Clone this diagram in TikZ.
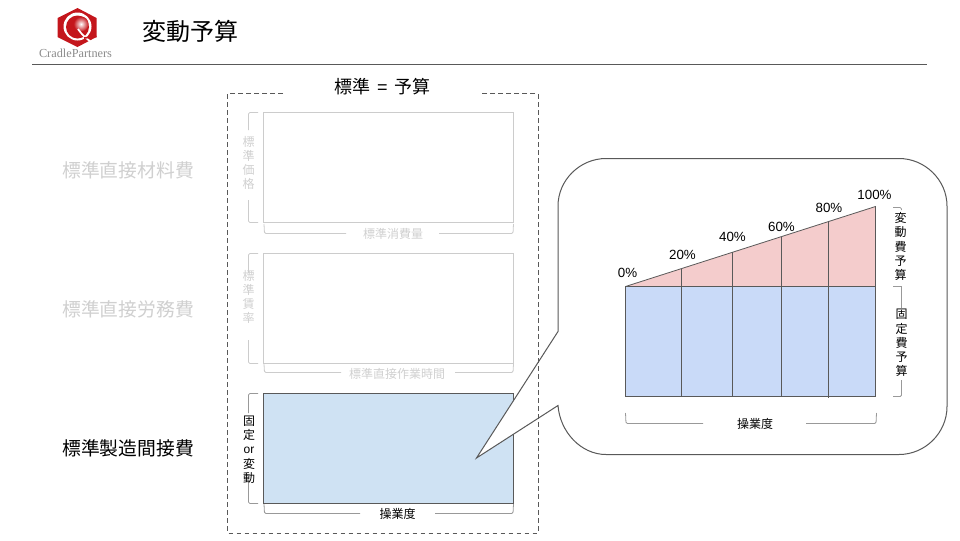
\documentclass[tikz,border=0pt]{standalone}
\usepackage{fontspec}
\setmainfont{Noto Sans CJK JP}
\newfontfamily\latinf{Liberation Sans}
\newfontfamily\logof{Liberation Serif}
\definecolor{lineg}{HTML}{595959}
\definecolor{brk}{HTML}{999999}
\definecolor{pale}{HTML}{CCCCCC}
\definecolor{paletext}{HTML}{D0D0D0}
\definecolor{boxblue}{HTML}{CFE2F3}
\definecolor{chartblue}{HTML}{C9DAF8}
\definecolor{chartpink}{HTML}{F4CCCC}
\definecolor{logored}{HTML}{C4161C}
\tikzset{
  lbl/.style={inner sep=0pt,font=\fontsize{14.1}{14}\selectfont},
  vtext/.style={inner sep=0pt,align=center,font=\fontsize{9}{10.7}\selectfont},
  htext/.style={inner sep=0pt,font=\fontsize{9}{10}\selectfont},
  pct/.style={inner sep=0pt,font=\latinf\fontsize{10}{11}\selectfont},
  brkpale/.style={draw=pale,line width=0.6pt,rounded corners=1pt},
  brkdark/.style={draw=brk,line width=0.6pt,rounded corners=1pt},
  chartline/.style={draw=lineg,line width=0.6pt},
}
\begin{document}
\begin{tikzpicture}[x=0.75pt,y=-0.75pt]
\useasboundingbox (0,0) rectangle (960,540);
\fill[white] (0,0) rectangle (960,540);
% header logo
\fill[logored] (77.5,8) -- (96.5,18) -- (96.5,37) -- (77.5,47) -- (57.5,37) -- (57.5,18) -- cycle;
\fill[white] (77.5,26.5) circle (14);
\fill[logored] (77.5,27) circle (11.5);
\shade[inner color=white,outer color=logored] (81,24) circle (7.5);
\draw[white,line width=1.3pt] (78,29) .. controls (82,35) and (86,38) .. (91,42);
\draw[logored,line width=1.2pt] (84,38) -- (96.5,36.5);
\node[inner sep=0pt,text=gray!90,font=\logof\fontsize{9.2}{10}\selectfont] (logotext) at (75.5,53) {CradlePartners};
\node[inner sep=0pt,font=\fontsize{18}{18}\selectfont] (title) at (190,31.5) {変動予算};
\draw[draw=lineg,line width=0.7pt] (32,64.5) -- (927,64.5);
% left labels
\node[lbl,text=paletext] (l1) at (128,170) {標準直接材料費};
\node[lbl,text=paletext] (l2) at (128,309) {標準直接労務費};
\node[lbl] (l3) at (128,448) {標準製造間接費};
% boxes
\draw[draw=pale,line width=0.75pt,fill=white] (263.5,112.5) rectangle (513.5,222.5);
\draw[draw=pale,line width=0.75pt,fill=white] (263.5,253.5) rectangle (513.5,363.5);
\draw[draw=lineg,line width=0.75pt,fill=boxblue] (263.5,393.5) rectangle (513.5,503.5);
% left brackets
\draw[brkpale] (258,112.5) -- (248.5,112.5) -- (248.5,130);
\draw[brkpale] (248.5,200) -- (248.5,222.5) -- (258,222.5);
\draw[brkpale] (258,253.5) -- (248.5,253.5) -- (248.5,273);
\draw[brkpale] (248.5,340) -- (248.5,363.5) -- (258,363.5);
\draw[brkdark] (258,393.5) -- (248.5,393.5) -- (248.5,413);
\draw[brkdark] (248.5,483) -- (248.5,503.5) -- (258,503.5);
% bottom brackets
\draw[brkpale] (264,224) -- (264.5,233.5) -- (346,233.5);
\draw[brkpale] (439,233.5) -- (513,233.5) -- (513.5,224);
\draw[brkpale] (264,364) -- (264.5,372.5) -- (341,372.5);
\draw[brkpale] (455,372.5) -- (513,372.5) -- (513.5,364);
\draw[brkdark] (264,504) -- (264.5,513.5) -- (360,513.5);
\draw[brkdark] (435,513.5) -- (513,513.5) -- (513.5,504);
% side texts
\node[vtext,text=paletext] (v1) at (248.5,163) {標\\準\\価\\格};
\node[vtext,text=paletext] (v2) at (248.5,297) {標\\準\\賃\\率};
\node[vtext] (v3) at (249,449.5) {固\\定\\{\latinf or}\\変\\動};
\node[htext,text=paletext] (h1) at (393,233.5) {標準消費量};
\node[htext,text=paletext] (h2) at (397,373.5) {標準直接作業時間};
\node[htext] (h3) at (397.5,513.5) {操業度};
% callout
\draw[draw=lineg,line width=0.75pt,fill=white] (558,331.5) -- (558,206)
  .. controls (558,180) and (580,158.5) .. (606,158.5) -- (899,158.5)
  .. controls (925,158.5) and (947,180) .. (947,206) -- (947,406.5)
  .. controls (947,433) and (925,454.5) .. (899,454.5) -- (606,454.5)
  .. controls (581,454.5) and (560,432) .. (558,405.5) -- (476.5,458) -- cycle;
% dashed frame
\draw[draw=lineg,line width=0.6pt,dash pattern=on 3.5pt off 2.5pt] (283,93.5) -- (227.5,93.5) -- (227.5,533) -- (538,533) -- (538,93.5) -- (482,93.5);
\node[inner sep=0pt,font=\fontsize{13.5}{13.5}\selectfont] (frame) at (382.5,87) {標準\hspace{0.35em}{\latinf =}\hspace{0.35em}予算};
% chart
\fill[chartpink] (625.5,286.5) -- (875.5,206.5) -- (875.5,286.5) -- cycle;
\fill[chartblue] (625.5,286.5) rectangle (875.5,396.5);
\draw[chartline] (625.5,286.5) -- (875.5,206.5) -- (875.5,396.5) -- (625.5,396.5) -- cycle;
\draw[chartline] (625.5,286.5) -- (875.5,286.5);
\draw[chartline] (681.5,268.6) -- (681.5,396.5);
\draw[chartline] (732.5,252.3) -- (732.5,396.5);
\draw[chartline] (781.5,236.6) -- (781.5,396.5);
\draw[chartline] (828.5,221.5) -- (828.5,397.5);
\node[pct] (p0) at (627.5,273) {0\%};
\node[pct] (p20) at (682.5,255) {20\%};
\node[pct] (p40) at (732.5,237) {40\%};
\node[pct] (p60) at (781.5,227) {60\%};
\node[pct] (p80) at (829,208) {80\%};
\node[pct] (p100) at (874.5,194.5) {100\%};
% chart brackets
\draw[brkdark] (893,207.5) -- (901.5,207.5) -- (901.5,210);
\draw[brkdark] (893,286) -- (901.5,286);
\draw[brkdark] (901.5,286) -- (901.5,308);
\draw[brkdark] (901.5,380) -- (901.5,396.5) -- (893,396.5);
\node[vtext] (v4) at (900.5,246.5) {変\\動\\費\\予\\算};
\node[vtext] (v5) at (901.5,343) {固\\定\\費\\予\\算};
\draw[brkdark] (625.5,413) -- (626,423.5) -- (703,423.5);
\draw[brkdark] (806,423.5) -- (876,423.5) -- (876.5,413);
\node[htext] (h4) at (755,424) {操業度};
\end{tikzpicture}
\end{document}
